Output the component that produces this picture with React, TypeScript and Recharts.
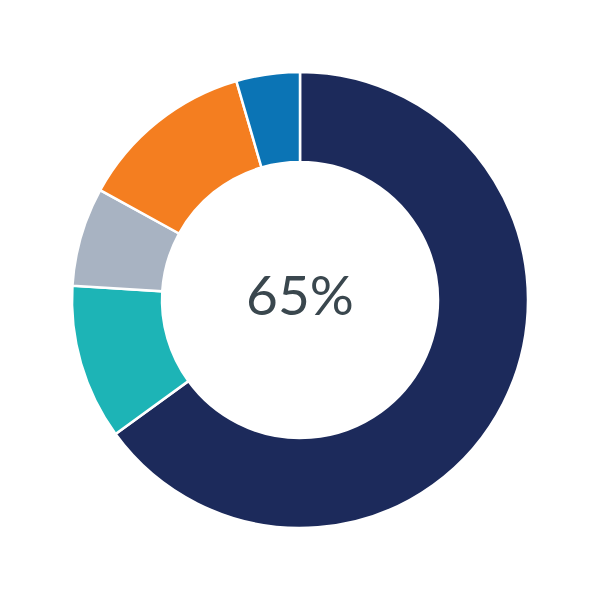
import { Pie, PieChart, Cell } from 'recharts';

const labels = ['A', 'B', 'C', 'D', 'E'];
const values = [65, 11, 7, 12.5, 4.5];
const colors = ['#1c2a5b', '#1db4b6', '#a8b3c2', '#f47e20', '#0b74b5'];
const centerLabel = '65%';

export default function App() {
  const data = labels.map((name, i) => ({ name, value: values[i] }));
  return (
    <div style={{ position: 'absolute', left: 0, top: 0, width: 600, height: 600 }}>
      <PieChart width={600} height={600} margin={{ top: 0, right: 0, bottom: 0, left: 0 }}>
        <Pie
          data={data}
          dataKey="value"
          cx={300}
          cy={300}
          innerRadius={138}
          outerRadius={228}
          startAngle={90}
          endAngle={-270}
          stroke="#ffffff"
          strokeWidth={2.5}
          isAnimationActive={false}
        >
          {data.map((d, i) => (
            <Cell key={d.name} fill={colors[i]} />
          ))}
        </Pie>
        {/* center value */}
        <text
          x={300}
          y={315}
          textAnchor="middle"
          fontFamily="Lato, sans-serif"
          fontWeight={400}
          fontSize={55}
          fill="#3a474e"
        >
          {centerLabel}
        </text>
      </PieChart>
    </div>
  );
}
